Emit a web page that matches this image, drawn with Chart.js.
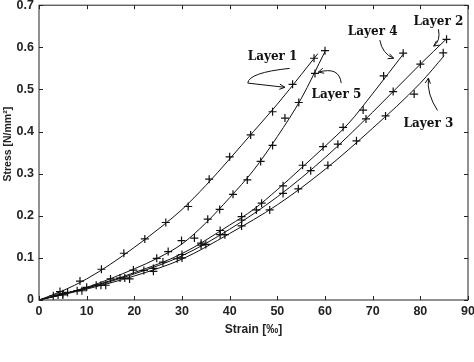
<!DOCTYPE html>
<html>
<head>
<meta charset="utf-8">
<script src="https://cdn.jsdelivr.net/npm/chart.js@4"></script>
<style>
  html, body { margin: 0; padding: 0; background: #fff; }
  #wrap { width: 474px; height: 362px; }
</style>
</head>
<body>
<div id="wrap"><canvas id="chart"></canvas></div>
<script>
// fitted curves [strain, stress]
const curve1 = [[0,0],[5,0.022],[10,0.05],[15,0.085],[20,0.125],[25,0.168],[30,0.215],[35,0.272],[40,0.335],[45,0.4],[50,0.465],[55,0.535],[58.5,0.585]];
const curve2 = [[0,0],[10,0.028],[20,0.062],[30,0.105],[40,0.168],[50,0.245],[60,0.338],[70,0.446],[80,0.56],[85.5,0.62]];
const curve3 = [[0,0],[10,0.026],[20,0.057],[30,0.097],[40,0.158],[50,0.226],[60,0.31],[70,0.408],[80,0.515],[85,0.58]];
const curve4 = [[0,0],[10,0.029],[20,0.065],[30,0.11],[40,0.178],[45,0.215],[50,0.262],[55,0.313],[60,0.365],[65,0.42],[70,0.49],[76.5,0.585]];
const curve5 = [[0,0],[10,0.03],[20,0.074],[25,0.1],[30,0.133],[35,0.183],[40,0.243],[45,0.308],[50,0.388],[55,0.478],[60,0.59]];

// measured points [strain, stress]
const marks1 = [[4.4,0.02],[8.6,0.045],[13.1,0.073],[17.8,0.111],[22.2,0.145],[26.6,0.184],[31.3,0.222],[35.7,0.287],[40,0.34],[44.4,0.392],[49,0.447],[53.2,0.512],[57.7,0.574]];
const marks2 = [[4,0.012],[8,0.022],[13,0.035],[18,0.052],[24,0.075],[29,0.098],[34,0.13],[38,0.155],[42.5,0.19],[45.6,0.214],[51.2,0.253],[57,0.307],[62.7,0.37],[68.6,0.43],[74.3,0.495],[80,0.56],[85.5,0.619]];
const marks3 = [[5,0.012],[9,0.022],[14,0.035],[19,0.05],[24,0.068],[30,0.1],[35,0.132],[39,0.155],[42.5,0.176],[48.4,0.214],[54.4,0.264],[60.6,0.32],[66.6,0.378],[72.7,0.437],[78.7,0.489],[84.8,0.587]];
const marks4 = [[3,0.01],[6,0.018],[12,0.035],[17,0.052],[22,0.07],[26,0.09],[30,0.108],[34,0.135],[38,0.165],[42.5,0.198],[46.7,0.23],[51.2,0.271],[55.3,0.32],[59.6,0.364],[63.8,0.41],[68,0.451],[72.3,0.532],[76.4,0.586]];
const marks5 = [[5,0.015],[10,0.03],[15,0.05],[19.8,0.071],[24.7,0.099],[27.1,0.115],[29.9,0.141],[32.6,0.147],[35.4,0.192],[37.9,0.215],[40.7,0.251],[43.7,0.285],[46.5,0.329],[49,0.367],[51.6,0.432],[54.5,0.469],[57.9,0.538],[60,0.592]];

const xTicks = [0,10,20,30,40,50,60,70,80,90];
const yTicks = [0,0.1,0.2,0.3,0.4,0.5,0.6,0.7];

// labels with arrows: text anchor, arrow start, control, tip (data coords)
const callouts = [
    { text: 'Layer 1', at: [49.0,0.577], from: [52.6,0.55], ctrl: [44,0.54], mid: [43.8,0.515], tip: [51.6,0.505] },
    { text: 'Layer 5', at: [62.4,0.486], from: [63.4,0.515], ctrl: [63,0.555], tip: [58.6,0.541] },
    { text: 'Layer 4', at: [70.0,0.636], from: [71.5,0.617], ctrl: [72,0.585], tip: [74.4,0.574] },
    { text: 'Layer 2', at: [83.8,0.66], from: [83.8,0.643], ctrl: [84.3,0.615], tip: [82.8,0.603] },
    { text: 'Layer 3', at: [81.7,0.418], from: [83.6,0.45], ctrl: [81.3,0.49], tip: [81.7,0.527] }
];

const toXY = arr => arr.map(p => ({ x: p[0], y: p[1] }));

const lineSet = d => ({
    data: toXY(d), showLine: true, borderColor: '#111', borderWidth: 1,
    pointRadius: 0, cubicInterpolationMode: 'monotone', fill: false
});
const markSet = d => ({
    data: toXY(d), showLine: false, pointStyle: 'cross', pointRadius: 4,
    borderColor: '#111', borderWidth: 1.2, backgroundColor: '#111'
});

// inward ticks on all four sides + frame + y title
const frameTicks = {
    id: 'frameTicks',
    afterDraw(chart) {
        const { ctx, chartArea: a, scales: { x, y } } = chart;
        ctx.save();
        ctx.strokeStyle = '#222';
        ctx.lineWidth = 1;
        ctx.strokeRect(a.left, a.top, a.right - a.left, a.bottom - a.top);
        ctx.beginPath();
        xTicks.forEach(v => {
            const px = Math.round(x.getPixelForValue(v)) + 0.5;
            ctx.moveTo(px, a.bottom); ctx.lineTo(px, a.bottom - 4);
            ctx.moveTo(px, a.top); ctx.lineTo(px, a.top + 4);
        });
        yTicks.forEach(v => {
            const py = Math.round(y.getPixelForValue(v)) + 0.5;
            ctx.moveTo(a.left, py); ctx.lineTo(a.left + 4, py);
            ctx.moveTo(a.right, py); ctx.lineTo(a.right - 4, py);
        });
        ctx.stroke();

        // y axis title, sits a bit above centre like the original
        ctx.translate(8.5, y.getPixelForValue(0.37));
        ctx.rotate(-Math.PI / 2);
        ctx.fillStyle = '#222';
        ctx.font = 'bold 10.5px Arial, "Liberation Sans", sans-serif';
        ctx.textAlign = 'center';
        ctx.textBaseline = 'middle';
        ctx.fillText('Stress [N/mm²]', 0, 0);
        ctx.restore();
    }
};

const arrowHead = (ctx, fx, fy, tx, ty) => {
    const ang = Math.atan2(ty - fy, tx - fx);
    ctx.beginPath();
    ctx.moveTo(tx, ty);
    ctx.lineTo(tx - 6 * Math.cos(ang - 0.45), ty - 6 * Math.sin(ang - 0.45));
    ctx.moveTo(tx, ty);
    ctx.lineTo(tx - 6 * Math.cos(ang + 0.45), ty - 6 * Math.sin(ang + 0.45));
    ctx.stroke();
};

const labelArrows = {
    id: 'labelArrows',
    afterDraw(chart) {
        const { ctx, scales: { x, y } } = chart;
        const P = p => [x.getPixelForValue(p[0]), y.getPixelForValue(p[1])];
        ctx.save();
        ctx.strokeStyle = '#111';
        ctx.fillStyle = '#111';
        ctx.lineWidth = 1;
        ctx.font = 'bold 12px "DejaVu Serif", serif';
        ctx.textAlign = 'center';
        ctx.textBaseline = 'middle';
        callouts.forEach(c => {
            const [ax, ay] = P(c.at);
            ctx.fillText(c.text, ax, ay);
            const [fx, fy] = P(c.from);
            const [cx, cy] = P(c.ctrl);
            const [tx, ty] = P(c.tip);
            ctx.beginPath();
            ctx.moveTo(fx, fy);
            if (c.mid) {
                const [mx, my] = P(c.mid);
                ctx.quadraticCurveTo(cx, cy, mx, my);
                ctx.lineTo(tx, ty);
                ctx.stroke();
                arrowHead(ctx, mx, my, tx, ty);
            } else {
                ctx.quadraticCurveTo(cx, cy, tx, ty);
                ctx.stroke();
                arrowHead(ctx, cx, cy, tx, ty);
            }
        });
        ctx.restore();
    }
};

const tickFont = { family: 'Arial, "Liberation Sans", sans-serif', size: 12.5, weight: 'bold' };

new Chart(document.getElementById('chart'), {
    type: 'scatter',
    data: {
        datasets: [
            lineSet(curve1), lineSet(curve2), lineSet(curve3), lineSet(curve4), lineSet(curve5),
            markSet(marks1), markSet(marks2), markSet(marks3), markSet(marks4), markSet(marks5)
        ]
    },
    options: {
        responsive: true,
        maintainAspectRatio: false,
        animation: false,
        layout: { padding: { top: 5, right: 6, bottom: 25, left: 0 } },
        plugins: { legend: { display: false }, tooltip: { enabled: false } },
        scales: {
            x: {
                type: 'linear', min: 0, max: 90,
                afterBuildTicks: s => { s.ticks = xTicks.map(v => ({ value: v })); },
                afterFit: s => { s.height = 37; s.paddingLeft = 0; s.paddingRight = 0; },
                grid: { display: false, drawTicks: false },
                border: { display: false },
                ticks: { color: '#222', font: tickFont, padding: 4, maxRotation: 0 },
                title: { display: true, text: 'Strain [‰]', color: '#222',
                         font: { family: 'Arial, "Liberation Sans", sans-serif', size: 12, weight: 'bold' },
                         padding: { top: 2, bottom: 0 } }
            },
            y: {
                type: 'linear', min: 0, max: 0.7,
                afterBuildTicks: s => { s.ticks = yTicks.map(v => ({ value: v })); },
                afterFit: s => { s.width = 39; s.paddingTop = 0; s.paddingBottom = 0; },
                grid: { display: false, drawTicks: false },
                border: { display: false },
                ticks: { color: '#222', font: tickFont, padding: 5,
                         callback: v => (Math.round(v * 10) / 10).toString() },
                title: { display: false }
            }
        }
    },
    plugins: [frameTicks, labelArrows]
});
</script>
</body>
</html>
